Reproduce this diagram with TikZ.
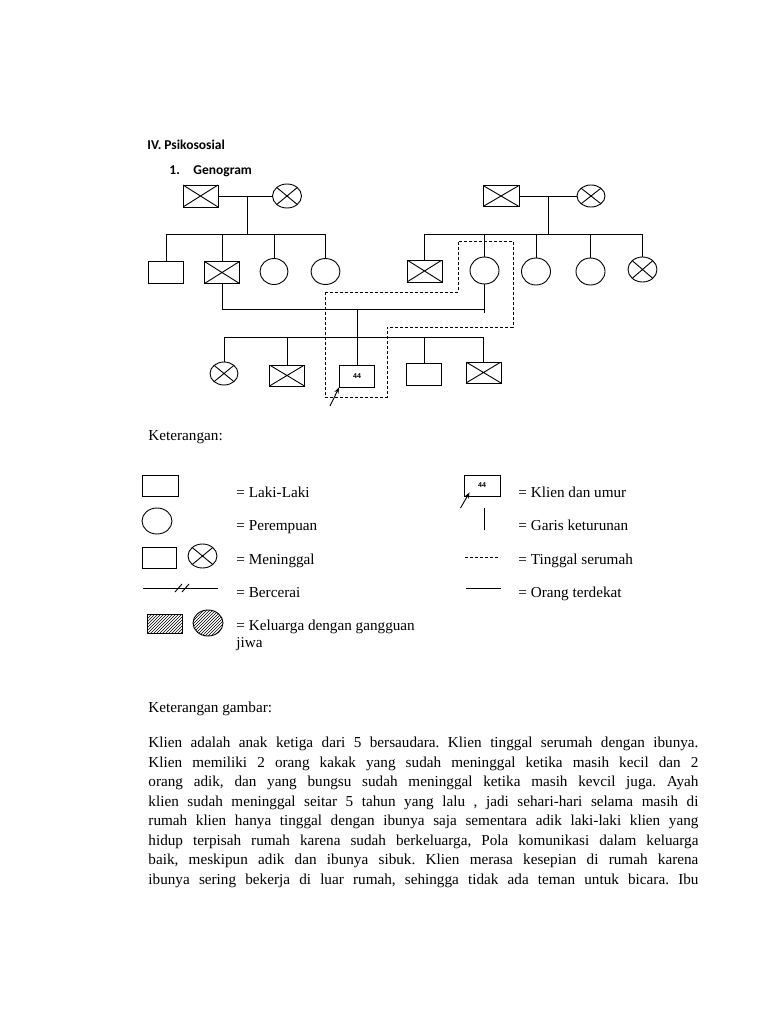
\documentclass[tikz,border=0pt]{standalone}
\usepackage{fontspec}
\setmainfont{Liberation Serif}
\newfontfamily\calibri{Carlito}
\newfontfamily\arial{Liberation Sans}
\usepackage{tikz}
\usetikzlibrary{shapes.geometric,arrows.meta,patterns,calc}
\frenchspacing

\begin{document}
\begin{tikzpicture}
  [
    x=1pt, y=-1pt, line width=0.9pt,
    laki/.style =
      {draw, rectangle, inner sep=0pt, minimum width=35pt, minimum height=22pt},
    perempuan/.style =
      {draw, ellipse, inner sep=0pt, minimum width=29pt, minimum height=26pt},
    mati/.style =
      {path picture={
        \draw (path picture bounding box.north west) -- (path picture bounding box.south east)
              (path picture bounding box.north east) -- (path picture bounding box.south west);}},
    teks/.style =
      {anchor=base west, inner sep=0pt, font=\fontsize{15.2}{18}\selectfont},
    judul/.style =
      {anchor=base west, inner sep=0pt, font=\calibri\bfseries\fontsize{13.5}{16}\selectfont},
    umur/.style =
      {font=\arial\bfseries\fontsize{7}{8}\selectfont}
  ]
  \useasboundingbox (0,0) rectangle (768,1024);

  \node [judul] at (147,150) (jd1) {IV. Psikososial};
  \node [judul] at (169,175) (jd2) {1.};
  \node [judul] at (193,175) (jd3) {Genogram};

  % generasi 1
  \node [laki, mati]                            at (200.5,196) (gfL) {};
  \node [perempuan, mati, minimum height=24pt]  at (287,196)   (gmL) {};
  \node [laki, mati, minimum width=36pt, minimum height=21pt] at (501,196) (gfR) {};
  \node [perempuan, mati, minimum width=28pt, minimum height=22pt] at (591,196) (gmR) {};
  \coordinate (nkL) at (247,196);
  \coordinate (nkR) at (548,196);
  \coordinate (sibL) at (0,234);
  \coordinate (sibR) at (0,234);

  % generasi 2
  \node [laki]                         at (166,272.5) (uL1) {};
  \node [laki, mati]                   at (222,272.5) (ayah) {};
  \node [perempuan, minimum width=28pt] at (274,271.5) (aL3) {};
  \node [perempuan]                    at (325.5,271.5) (aL4) {};
  \node [laki, mati]                   at (424.5,271) (uR1) {};
  \node [perempuan, minimum height=27pt] at (484.5,270.5) (ibu) {};
  \node [perempuan, minimum height=27pt] at (536,271.5) (aR3) {};
  \node [perempuan, minimum height=27pt] at (590.5,271.5) (aR4) {};
  \node [perempuan, mati, minimum height=25pt] at (642.5,269.5) (aR5) {};
  \coordinate (nikah) at (357,309);
  \coordinate (sib3) at (0,337);

  % generasi 3
  \node [perempuan, mati, minimum width=28pt, minimum height=23pt] at (224,373.5) (s1) {};
  \node [laki, mati, minimum height=21pt] at (287,375.5) (s2) {};
  \node [laki, umur]                      at (357,376)   (klien) {44};
  \node [laki]                            at (424,374)   (s4) {};
  \node [laki, mati, minimum height=21pt] at (483.5,372.5) (s5) {};
  \coordinate (panah) at (330,406);

  \draw (gfL.east) -- (gmL.west);
  \draw (gfR.east) -- (gmR.west);
  \draw (nkL) -- (nkL |- sibL);
  \draw (nkR) -- (nkR |- sibR);
  \draw (uL1.north) -- (uL1.north |- sibL) -- (aL4.north |- sibL) -- (aL4.north);
  \draw (ayah.north) -- (ayah.north |- sibL);
  \draw (aL3.north) -- (aL3.north |- sibL);
  \draw (uR1.north) -- (uR1.north |- sibR) -- (aR5.north |- sibR) -- (aR5.north);
  \draw (ibu.north) -- (ibu.north |- sibR);
  \draw (aR3.north) -- (aR3.north |- sibR);
  \draw (aR4.north) -- (aR4.north |- sibR);

  \draw (ayah.south) |- (ibu.south |- nikah);
  \draw (ibu.south) -- ($(ibu.south |- nikah)+(0,4)$);
  \draw (nikah) -- (klien.north);
  \draw (s1.north) -- (s1.north |- sib3) -- (s5.north |- sib3) -- (s5.north);
  \draw (s2.north) -- (s2.north |- sib3);
  \draw (s4.north) -- (s4.north |- sib3);

  % tinggal serumah
  \draw [dashed, dash pattern=on 3pt off 2pt]
    (325,292) -- (458,292) -- (458,241) -- (513,241) -- (513,327)
    -- (387,327) -- (387,397) -- (325,397) -- cycle;
  \draw [-{Stealth[length=6pt, width=4.5pt]}] (panah) -- (klien.south west);

  % keterangan
  \node [teks] at (148,440) (ket) {Keterangan:};

  \node [laki, minimum width=36pt, minimum height=21pt] at (160,485.5) (lgLaki) {};
  \node [perempuan, minimum width=30pt] at (157,521) (lgPr) {};
  \node [laki, minimum width=34pt, minimum height=21pt] at (159,557.5) (lgMt1) {};
  \node [perempuan, mati, minimum width=29pt, minimum height=24pt] at (202.5,556) (lgMt2) {};
  \node [laki, pattern=north east lines, minimum height=19pt] at (164.5,623.5) (lgJw1) {};
  \node [perempuan, pattern=north east lines, minimum width=30pt] at (208,623) (lgJw2) {};
  \draw (143,588) -- (218,588);
  \draw (175,592) -- (182,584) (182,592) -- (189,584);

  \node [teks] at (236,497) (tLaki) {= Laki-Laki};
  \node [teks] at (236,530) (tPr) {= Perempuan};
  \node [teks] at (236,564) (tMt) {= Meninggal};
  \node [teks] at (236,597) (tCr) {= Bercerai};
  \node [teks] at (236,630) (tJw1) {= Keluarga dengan gangguan};
  \node [teks] at (236,647) (tJw2) {jiwa};

  \node [laki, umur, minimum width=36pt, minimum height=21pt] at (482,485.5) (lgKl) {44};
  \coordinate (lgPanah) at (460.5,508);
  \draw [-{Stealth[length=6pt, width=4.5pt]}] (lgPanah) -- ($(lgKl.south west)+(6,-4)$);
  \draw (484,508) -- (484,530);
  \draw [dashed, dash pattern=on 3pt off 2pt, line width=0.6pt] (465,557) -- (500,557);
  \draw (466,588) -- (501,588);

  \node [teks] at (518,497) (tKl) {= Klien dan umur};
  \node [teks] at (518,530) (tGr) {= Garis keturunan};
  \node [teks] at (518,564) (tTs) {= Tinggal serumah};
  \node [teks] at (518,597) (tOt) {= Orang terdekat};

  % keterangan gambar
  \node [teks] at (148,712) (ketg) {Keterangan gambar:};
  \foreach \baris [count=\i from 0] in {
    {Klien adalah anak ketiga dari 5 bersaudara. Klien tinggal serumah dengan ibunya.},
    {Klien memiliki 2 orang kakak yang sudah meninggal ketika masih kecil dan 2},
    {orang adik, dan yang bungsu sudah meninggal ketika masih kevcil juga. Ayah},
    {klien sudah meninggal seitar 5 tahun yang lalu , jadi sehari-hari selama masih di},
    {rumah klien hanya tinggal dengan ibunya saja sementara adik laki-laki klien yang},
    {hidup terpisah rumah karena sudah berkeluarga, Pola komunikasi dalam keluarga},
    {baik, meskipun adik dan ibunya sibuk. Klien merasa kesepian di rumah karena},
    {ibunya sering bekerja di luar rumah, sehingga tidak ada teman untuk bicara. Ibu}}
    \node [teks] at (148,747.5+19.5*\i) (baris\i) {\makebox[550pt][s]{\baris}};

\end{tikzpicture}
\end{document}
